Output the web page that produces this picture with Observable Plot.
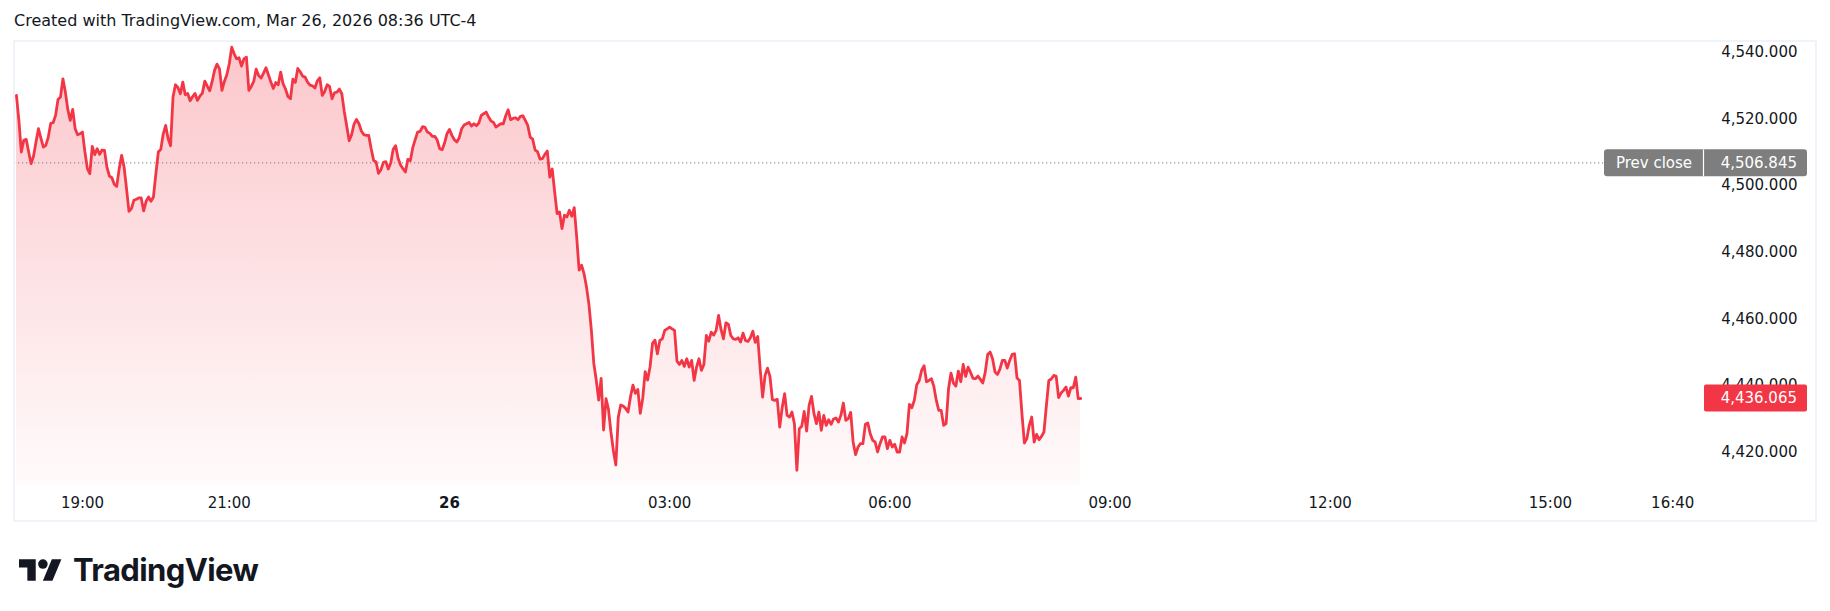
<!DOCTYPE html>
<html>
<head>
<meta charset="utf-8">
<script src="https://cdn.jsdelivr.net/npm/d3@7"></script>
<script src="https://cdn.jsdelivr.net/npm/@observablehq/plot@0.6"></script>
<style>
  html, body { margin: 0; padding: 0; background: #ffffff; width: 1830px; height: 611px; overflow: hidden; }
  body { position: relative; font-family: "DejaVu Sans", sans-serif; color: #131722; }
  #title { position: absolute; left: 14px; top: 11px; font-size: 16px; line-height: 20px; white-space: nowrap; }
  #chart { position: absolute; left: 0; top: 41px; }
  #frame { position: absolute; left: 13px; top: 40px; width: 1800px; height: 478px; border: 2px solid #f0f3fa; pointer-events: none; }
  #logo { position: absolute; left: 19px; top: 551px; display: flex; align-items: center; gap: 11px; }
  #logo span { font-family: Inter, "Noto Sans", sans-serif; font-weight: 700; font-size: 31px; letter-spacing: -0.6px; color: #131722; }
</style>
</head>
<body>
<div id="title">Created with TradingView.com, Mar 26, 2026 08:36 UTC-4</div>
<div id="chart"></div>
<div id="frame"></div>
<div id="logo">
  <svg width="43" height="22" viewBox="0 4 36 18"><path d="M14 22H7V11H0V4h14v18zM28 22h-8l7.5-18h8L28 22z" fill="#131722"/><circle cx="20" cy="8" r="4" fill="#131722"/></svg>
  <span>TradingView</span>
</div>
<script>
// ---- data (2-minute samples) ----
const segmentStarts = ["2026-03-25T18:06Z", "2026-03-25T20:58Z", "2026-03-25T23:54Z", "2026-03-26T02:50Z", "2026-03-26T05:42Z"];
const stepMinutes = 2;
const seg1 = [4527.1,4519.6,4510.1,4513.6,4513.9,4510.1,4506.6,4508.9,4513.1,4517.1,
  4514.3,4511.6,4512.1,4514.5,4518.7,4518.9,4521.1,4525.9,4526.6,4532.1,
  4528.1,4522.9,4519.6,4522.9,4517.1,4515.3,4515.6,4516.1,4510.1,4505.1,
  4503.6,4511.8,4509.3,4511.1,4509.4,4510.7,4510.6,4505.5,4502.9,4502.4,
  4500.4,4499.8,4505.1,4509.1,4505.6,4499.1,4492.3,4493.1,4495.6,4495.9,
  4496.3,4496.3,4492.4,4495.3,4496.6,4495.3,4496.6,4503.6,4510.1,4510.9,
  4515.5,4518.1,4514.1,4512.0,4526.6,4530.3,4529.5,4527.6,4531.1,4527.3,
  4527.7,4525.5,4526.7,4527.7,4525.6,4526.9,4527.8,4531.4,4529.9,4528.5,
  4531.3,4534.7,4536.5,4535.1,4528.6,4531.3];
const seg2 = [4533.3,4536.6,4541.6,4539.6,4538.1,4538.4,4535.9,4538.1,4538.6,4528.6,
  4529.8,4531.3,4535.0,4533.1,4532.3,4533.8,4535.4,4533.3,4531.1,4529.2,
  4531.0,4530.3,4534.1,4530.6,4529.0,4526.7,4526.1,4532.0,4531.0,4535.2,
  4534.2,4532.9,4532.6,4531.1,4530.2,4530.0,4529.3,4531.5,4532.4,4527.1,
  4528.3,4530.3,4529.8,4526.1,4527.9,4528.1,4529.0,4527.6,4522.3,4517.9,
  4513.5,4515.3,4518.5,4519.9,4518.6,4516.4,4515.3,4515.1,4515.1,4511.1,
  4507.6,4507.1,4503.7,4504.8,4507.0,4507.2,4505.0,4506.8,4510.9,4512.0,
  4508.2,4506.2,4505.1,4504.1,4507.9,4507.5,4511.4,4513.8,4516.1,4516.3,
  4517.7,4517.5,4516.1,4515.7,4514.8,4514.8,4513.7,4511.1];
const seg3 = [4510.8,4512.8,4515.6,4516.9,4515.1,4513.8,4513.1,4514.4,4517.1,4518.2,
  4518.6,4519.0,4517.9,4518.6,4518.0,4518.8,4521.1,4521.6,4522.1,4520.6,
  4519.4,4519.0,4517.6,4518.1,4518.6,4518.6,4521.0,4522.8,4519.8,4520.2,
  4520.4,4519.8,4520.8,4521.0,4519.6,4518.1,4514.6,4514.0,4510.7,4510.2,
  4508.0,4508.1,4509.4,4510.4,4502.6,4505.0,4498.1,4491.6,4492.1,4487.1,
  4491.1,4490.6,4492.6,4490.8,4493.4,4484.6,4474.6,4476.1,4473.6,4469.6,
  4464.4,4456.6,4446.6,4441.6,4435.6,4442.1,4426.6,4436.0,4432.8,4426.0,
  4420.4,4416.1,4430.4,4434.1,4433.8,4433.1,4432.0,4436.6,4440.1,4437.6,
  4438.8,4431.6,4436.1,4444.1,4441.6,4445.6,4452.6,4453.6];
const seg4 = [4449.5,4453.5,4454.0,4456.5,4457.0,4457.5,4457.0,4456.5,4447.3,4446.3,
  4447.5,4445.7,4448.0,4445.5,4447.5,4441.5,4445.5,4448.0,4444.5,4446.3,
  4455.0,4453.3,4456.0,4455.1,4456.5,4461.0,4456.8,4454.0,4458.8,4458.4,
  4455.0,4454.0,4453.8,4454.3,4453.0,4455.7,4453.5,4453.2,4454.3,4456.3,
  4452.9,4454.7,4445.0,4436.5,4443.0,4445.2,4442.7,4435.7,4435.5,4435.8,
  4427.5,4433.3,4437.5,4431.0,4430.5,4432.0,4428.5,4414.5,4427.0,4427.7,
  4432.2,4426.3,4434.0,4436.7,4431.5,4428.5,4432.0,4426.5,4431.0,4428.0,
  4429.7,4428.3,4429.9,4430.2,4429.0,4431.0,4434.7,4429.5,4430.0,4431.9,
  4423.0,4419.2,4421.5,4422.5,4422.5,4428.3];
const seg5 = [4428.7,4425.5,4423.5,4423.0,4420.0,4422.5,4424.5,4424.5,4421.0,4423.5,
  4421.5,4422.3,4420.0,4420.0,4424.5,4422.7,4425.5,4434.3,4433.3,4435.5,
  4440.2,4441.4,4444.5,4445.9,4441.1,4441.5,4442.0,4439.7,4435.5,4432.5,
  4432.5,4428.0,4428.5,4439.0,4443.7,4440.7,4439.8,4444.3,4441.1,4446.3,
  4442.7,4445.5,4443.9,4442.1,4442.0,4442.8,4441.8,4440.7,4444.0,4449.3,
  4450.0,4448.0,4444.0,4443.3,4444.9,4447.5,4447.5,4445.2,4447.5,4449.3,
  4449.5,4442.2,4441.5,4431.5,4422.7,4424.0,4428.0,4430.5,4423.0,4425.3,
  4423.7,4424.7,4426.0,4434.0,4441.5,4441.9,4443.0,4442.7,4436.3,4437.7,
  4438.5,4439.5,4436.8,4439.3,4439.3,4442.5,4436.0,4436.065];
const prevClose = 4506.845;
const lastPrice = 4436.065;
const yTicks = [4420, 4440, 4460, 4480, 4500, 4520, 4540];
const xTickTimes = ["2026-03-25T19:00Z", "2026-03-25T21:00Z", "2026-03-26T03:00Z", "2026-03-26T06:00Z", "2026-03-26T09:00Z", "2026-03-26T12:00Z", "2026-03-26T15:00Z", "2026-03-26T16:40Z"];
const xTickLabels = ["19:00", "21:00", "03:00", "06:00", "09:00", "12:00", "15:00", "16:40"];
const dayTickTime = "2026-03-26T00:00Z";
const dayTickLabel = "26";
const xDomain = ["2026-03-25T18:04:25Z", "2026-03-26T17:06:00Z"];
const yDomain = [4409.93, 4543.3];

// ---- build table ----
const data = [];
[seg1, seg2, seg3, seg4, seg5].forEach((seg, k) => {
  const t0 = new Date(segmentStarts[k]).getTime();
  seg.forEach((v, i) => data.push({time: new Date(t0 + i * stepMinutes * 60000), value: v}));
});

const W = 1830, H = 479, mL = 14, mR = 126, mT = 0, mB = 35;
const fmt = d3.format(",.3f");
const tickDates = xTickTimes.map(s => new Date(s));
const labelFor = new Map(tickDates.map((d, i) => [+d, xTickLabels[i]]));

const plot = Plot.plot({
  width: W, height: H,
  marginLeft: mL, marginRight: mR, marginTop: mT, marginBottom: mB,
  style: {fontFamily: "DejaVu Sans, sans-serif", fontSize: "15px", color: "#131722", background: "transparent", overflow: "visible"},
  x: {type: "utc", domain: xDomain.map(s => new Date(s))},
  y: {domain: yDomain},
  marks: [
    () => {
      const defs = d3.create("svg:defs");
      const g = defs.append("linearGradient").attr("id", "tvGrad").attr("x1", 0).attr("y1", 0).attr("x2", 0).attr("y2", 1);
      g.append("stop").attr("offset", "0%").attr("stop-color", "#f23645").attr("stop-opacity", 0.28);
      g.append("stop").attr("offset", "100%").attr("stop-color", "#f23645").attr("stop-opacity", 0.02);
      return defs.node();
    },
    Plot.areaY(data, {x: "time", y1: yDomain[0], y2: "value", fill: "url(#tvGrad)"}),
    Plot.ruleY([prevClose], {stroke: "#787b86", strokeWidth: 1, strokeDasharray: "1.2,2.8"}),
    Plot.lineY(data, {x: "time", y: "value", stroke: "#f23645", strokeWidth: 2.8, strokeLinejoin: "round"}),
    Plot.axisY({anchor: "right", ticks: yTicks, tickSize: 0, tickPadding: 0, dx: 93, textAnchor: "end", tickFormat: fmt, label: null, fill: "#131722"}),
    Plot.axisX({ticks: tickDates, tickSize: 0, tickPadding: 12, tickFormat: d => labelFor.get(+d), label: null, fill: "#131722"}),
    Plot.axisX({ticks: [new Date(dayTickTime)], tickSize: 0, tickPadding: 12, tickFormat: () => dayTickLabel, label: null, fontWeight: "bold", fill: "#131722"})
  ]
});
document.getElementById("chart").appendChild(plot);

// ---- price-scale labels (positioned with the plot's y scale) ----
const ys = plot.scale("y");
const svg = d3.select(plot);
const plotRight = W - mR;
const g = svg.append("g").attr("font-family", "DejaVu Sans, sans-serif").attr("font-size", 15);
const yPrev = ys.apply(prevClose);
g.append("rect").attr("x", plotRight - 100).attr("y", yPrev - 13).attr("width", 203).attr("height", 27).attr("rx", 3).attr("fill", "#7e7e7e");
g.append("line").attr("x1", plotRight - 0.5).attr("x2", plotRight - 0.5).attr("y1", yPrev - 13).attr("y2", yPrev + 14).attr("stroke", "#ffffff").attr("stroke-width", 1.2);
g.append("text").attr("x", plotRight - 50).attr("y", yPrev + 0.5).attr("dy", "0.36em").attr("text-anchor", "middle").attr("fill", "#ffffff").text("Prev close");
g.append("text").attr("x", plotRight + 93).attr("y", yPrev + 0.5).attr("dy", "0.36em").attr("text-anchor", "end").attr("fill", "#ffffff").text(fmt(prevClose));
const yLast = ys.apply(lastPrice);
g.append("rect").attr("x", plotRight).attr("y", yLast - 13.5).attr("width", 103).attr("height", 27).attr("rx", 2).attr("fill", "#f23645");
g.append("text").attr("x", plotRight + 93).attr("y", yLast).attr("dy", "0.36em").attr("text-anchor", "end").attr("fill", "#ffffff").text(fmt(lastPrice));
</script>
</body>
</html>
